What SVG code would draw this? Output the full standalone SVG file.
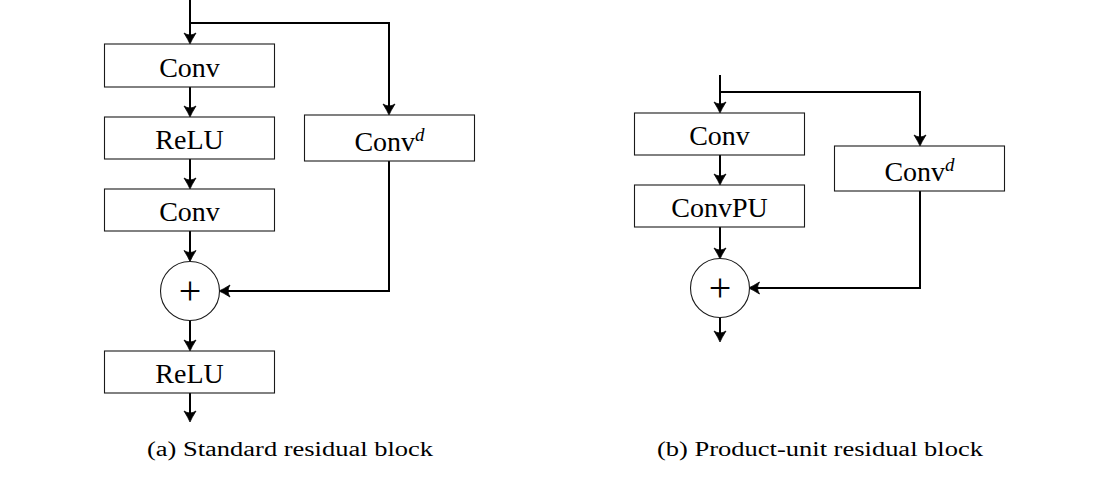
<svg xmlns="http://www.w3.org/2000/svg" width="1118" height="485" viewBox="0 0 1118 485">
<style>
.box{fill:#fff;stroke:#1a1a1a;stroke-width:1.1}
.lbl{font-family:"Liberation Serif","Times New Roman",serif;font-size:28px;fill:#000;text-anchor:middle}
.plus{font-family:"Liberation Serif","Times New Roman",serif;font-size:40px;fill:#000;text-anchor:middle}
.cap{font-family:"Liberation Serif","Times New Roman",serif;font-size:20px;fill:#000;text-anchor:middle}
.sup{font-style:italic;font-size:19px}
.edge{fill:none;stroke:#000;stroke-width:2;marker-end:url(#arr)}
.line{fill:none;stroke:#000;stroke-width:2}
</style>
<defs>
<marker id="arr" markerUnits="userSpaceOnUse" markerWidth="20" markerHeight="20" viewBox="-14 -10 20 20" refX="-3" refY="0" orient="auto" overflow="visible">
<path d="M-11,-6 Q-4,-1.6 0,0 Q-4,1.6 -11,6 Q-7,0 -11,-6 Z" fill="#000" stroke="#000" stroke-width="0.8" stroke-linejoin="round"/>
</marker>
</defs>
<rect width="1118" height="485" fill="#fff"/>
<g id="connectors">
<path class="edge" d="M190,0 V41"/>
<path class="line" d="M190,23 H389"/>
<path class="edge" d="M389,22 V112"/>
<path class="edge" d="M190,87 V114"/>
<path class="edge" d="M190,159 V186"/>
<path class="edge" d="M190,231 V258.5"/>
<path class="edge" d="M389,161 V291 H222"/>
<path class="edge" d="M190,320.5 V348"/>
<path class="edge" d="M190,393 V419"/>
<path class="edge" d="M720,75 V110"/>
<path class="line" d="M720,92 H920"/>
<path class="edge" d="M920,91 V143"/>
<path class="edge" d="M720,155 V182"/>
<path class="edge" d="M720,227 V256"/>
<path class="edge" d="M920,191 V288 H751.5"/>
<path class="edge" d="M720,317.5 V339"/>
</g>
<g id="a-conv1"><rect class="box" x="104.5" y="44" width="170" height="43"/><text class="lbl" x="189.5" y="77">Conv</text></g>
<g id="a-relu1"><rect class="box" x="104.5" y="117" width="170" height="42"/><text class="lbl" x="189.5" y="149">ReLU</text></g>
<g id="a-conv2"><rect class="box" x="104.5" y="189" width="170" height="42"/><text class="lbl" x="189.5" y="221">Conv</text></g>
<g id="a-convd"><rect class="box" x="304.5" y="115" width="170" height="46"/><text class="lbl" x="389.5" y="151">Conv<tspan class="sup" dy="-10">d</tspan></text></g>
<g id="a-add"><circle class="box" cx="190" cy="291" r="29.5"/><text class="plus" x="190" y="304">+</text></g>
<g id="a-relu2"><rect class="box" x="104.5" y="351" width="170" height="42"/><text class="lbl" x="189.5" y="383">ReLU</text></g>
<g id="b-conv"><rect class="box" x="634.5" y="113" width="170" height="42"/><text class="lbl" x="719.5" y="145">Conv</text></g>
<g id="b-convpu"><rect class="box" x="634.5" y="185" width="170" height="42"/><text class="lbl" x="719.5" y="217">ConvPU</text></g>
<g id="b-convd"><rect class="box" x="834.5" y="146" width="170" height="45"/><text class="lbl" x="919.5" y="181">Conv<tspan class="sup" dy="-10">d</tspan></text></g>
<g id="b-add"><circle class="box" cx="720" cy="288" r="29.5"/><text class="plus" x="720" y="301">+</text></g>
<g id="captions">
<text class="cap" x="290" y="456" textLength="286" lengthAdjust="spacingAndGlyphs">(a) Standard residual block</text>
<text class="cap" x="820" y="456" textLength="326" lengthAdjust="spacingAndGlyphs">(b) Product-unit residual block</text>
</g>
</svg>
